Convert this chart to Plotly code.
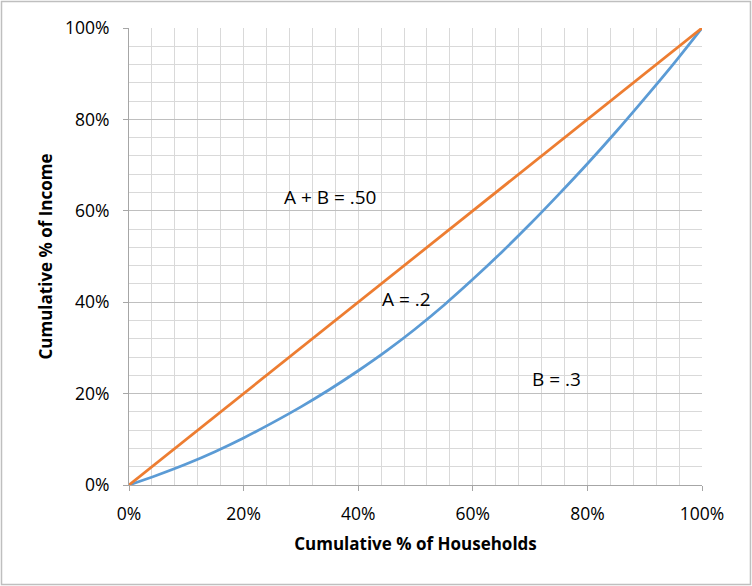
import plotly.graph_objects as go

# Data
households = [0.00, 0.05, 0.10, 0.15, 0.20, 0.25, 0.30, 0.35, 0.40, 0.45, 0.50,
              0.55, 0.60, 0.65, 0.70, 0.75, 0.80, 0.85, 0.90, 0.95, 1.00]
income = [0.000, 0.022, 0.046, 0.073, 0.103, 0.136, 0.171, 0.209, 0.250, 0.294, 0.342,
          0.394, 0.450, 0.509, 0.571, 0.636, 0.703, 0.773, 0.846, 0.921, 1.000]
equality_x = [0.0, 1.0]
equality_y = [0.0, 1.0]

labels = ["A + B = .50", "A = .2", "B = .3"]
label_x = [0.351, 0.484, 0.746]
label_y = [0.630, 0.406, 0.231]

FONT = "Open Sans"

fig = go.Figure()
fig.add_trace(go.Scatter(x=households, y=income, mode="lines", line_shape="spline",
                         line=dict(color="#5B9BD5", width=2.75), hoverinfo="skip",
                         showlegend=False))
fig.add_trace(go.Scatter(x=equality_x, y=equality_y, mode="lines",
                         line=dict(color="#ED7D31", width=2.75), hoverinfo="skip",
                         showlegend=False))

for t, lx, ly in zip(labels, label_x, label_y):
    fig.add_annotation(x=lx, y=ly, text=t, showarrow=False,
                       font=dict(family=FONT, size=19, color="#000000"))

fig.update_layout(
    width=752, height=586,
    margin=dict(l=129, r=50, t=28, b=101),
    paper_bgcolor="white", plot_bgcolor="white",
    font=dict(family=FONT, size=17.5, color="#000000"),
    xaxis=dict(range=[0, 1], tickmode="linear", tick0=0, dtick=0.2, tickformat=".0%",
               showgrid=True, gridcolor="#D9D9D9", gridwidth=1,
               minor=dict(dtick=0.04, tick0=0, showgrid=True, gridcolor="#D9D9D9", gridwidth=1),
               showline=True, linecolor="#A6A6A6", linewidth=1,
               ticks="outside", ticklen=5, tickcolor="#A6A6A6",
               ticklabelstandoff=8,
               zeroline=False, fixedrange=True,
               title=dict(text="<b>Cumulative % of Households</b>", font=dict(size=17), standoff=14)),
    yaxis=dict(range=[0, 1], tickmode="linear", tick0=0, dtick=0.2, tickformat=".0%",
               showgrid=True, gridcolor="#BFBFBF", gridwidth=1,
               minor=dict(dtick=0.04, tick0=0, showgrid=True, gridcolor="#D9D9D9", gridwidth=1),
               showline=True, linecolor="#A6A6A6", linewidth=1,
               ticks="outside", ticklen=5, tickcolor="#A6A6A6",
               ticklabelstandoff=10,
               zeroline=False, fixedrange=True,
               title=dict(text="<b>Cumulative % of Income</b>", font=dict(size=17), standoff=8)),
    shapes=[dict(type="rect", xref="paper", yref="paper",
                 x0=-0.2225, x1=1.0846, y0=-0.2177, y1=1.058,
                 line=dict(color="#BFBFBF", width=1.5), fillcolor="rgba(0,0,0,0)", layer="below")],
)

fig.write_html("out.html", config={"displayModeBar": False, "staticPlot": True},
               post_script="document.body.style.margin='0px';")
